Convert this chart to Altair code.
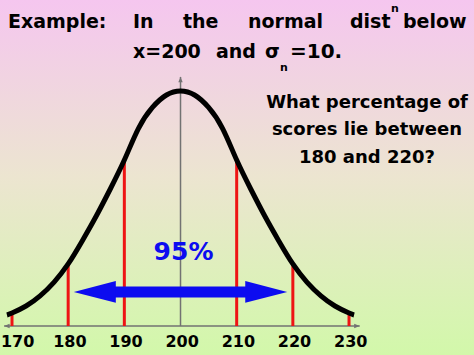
import altair as alt
import pandas as pd

# ---------------- data ----------------
curve_x = [169.1, 170, 172.5, 175, 177.5, 180, 182.5, 185, 187.5, 190, 192.5, 195, 197.5, 200,
           202.5, 205, 207.5, 210, 212.5, 215, 217.5, 220, 222.5, 225, 227.5, 230, 230.9]
curve_y = [0.047, 0.055, 0.085, 0.128, 0.187, 0.264, 0.362, 0.468, 0.583, 0.706, 0.84, 0.93, 0.983, 1.0,
           0.983, 0.93, 0.84, 0.706, 0.583, 0.468, 0.362, 0.264, 0.187, 0.128, 0.085, 0.055, 0.047]
tick_values = [170, 180, 190, 200, 210, 220, 230]
tick_labels = ["170", "180", "190", "200", "210", "220", "230"]
marker_x = [170, 180, 190, 210, 220, 230]
marker_top = [0.055, 0.264, 0.706, 0.706, 0.264, 0.055]
mean_value = 200
arrow_lo, arrow_hi = 181, 219
pct_text = "95%"

# ---------------- scales ----------------
XS = alt.Scale(domain=[167.864, 252.25], nice=False, zero=False)
YS = alt.Scale(domain=[-0.1234, 1.3872], nice=False, zero=False)

def X(field="x", t="Q"):
    return alt.X(f"{field}:{t}", scale=XS, axis=None)

def Y(field="y", t="Q"):
    return alt.Y(f"{field}:{t}", scale=YS, axis=None)

dummy = pd.DataFrame({"d": [0]})
FONT = "DejaVu Sans"

def txt(text, x, y, size, color="black", weight="bold", align="left"):
    return alt.Chart(dummy).mark_text(
        text=text, font=FONT, fontSize=size, fontWeight=weight, color=color,
        align=align, baseline="alphabetic"
    ).encode(x=alt.value(x), y=alt.value(y))

# background gradient
bg = alt.Chart(dummy).mark_rect(
    color=alt.LinearGradient(
        gradient="linear",
        stops=[alt.GradientStop(offset=0, color="#f5c6ef"),
               alt.GradientStop(offset=0.5, color="#ece5d0"),
               alt.GradientStop(offset=1, color="#d2f8aa")],
        x1=0, x2=0, y1=0, y2=1)
).encode(x=alt.value(0), x2=alt.value(474), y=alt.value(0), y2=alt.value(355))

curve_df = pd.DataFrame({"x": curve_x, "y": curve_y})
marker_df = pd.DataFrame({"x": marker_x, "y": [0] * len(marker_x), "y2": marker_top})
tick_df = pd.DataFrame({"x": tick_values, "label": tick_labels})
mean_df = pd.DataFrame({"x": [mean_value], "y": [0], "y2": [1.06]})
axis_df = pd.DataFrame({"x": [168.6], "x2": [231.9], "y": [0]})
arrow_df = pd.DataFrame({"lo": [arrow_lo], "hi": [arrow_hi], "y": [0.145]})

GRAY = "#727272"
RED = "#ee1414"
BLUE = "#0c0cf0"

axis_line = alt.Chart(axis_df).mark_rule(color=GRAY, strokeWidth=1.5).encode(
    x=X("x"), x2="x2:Q", y=Y("y"))
axis_left = alt.Chart(axis_df).mark_point(
    shape="M0,0L2,-0.8L2,0.8Z", filled=True, opacity=1, color=GRAY, size=30
).encode(x=X("x"), y=Y("y"))
axis_right = alt.Chart(axis_df).mark_point(
    shape="M0,0L-2,-0.8L-2,0.8Z", filled=True, opacity=1, color=GRAY, size=30
).encode(x=X("x2"), y=Y("y"))

mean_line = alt.Chart(mean_df).mark_rule(color=GRAY, strokeWidth=1.5).encode(
    x=X("x"), y=Y("y"), y2="y2:Q")
mean_tip = alt.Chart(mean_df).mark_point(
    shape="M0,0L-0.8,2L0.8,2Z", filled=True, opacity=1, color=GRAY, size=30
).encode(x=X("x"), y=Y("y2"))

markers = alt.Chart(marker_df).mark_rule(color=RED, strokeWidth=3).encode(
    x=X("x"), y=Y("y"), y2="y2:Q")

curve = alt.Chart(curve_df).mark_line(
    color="black", strokeWidth=5, interpolate="natural", strokeCap="butt"
).encode(x=X("x"), y=Y("y"))

shaft = alt.Chart(arrow_df).transform_calculate(
    a="datum.lo + 5", b="datum.hi - 5"
).mark_rule(color=BLUE, strokeWidth=11).encode(x=X("a"), x2="b:Q", y=Y("y"))
head_l = alt.Chart(arrow_df).mark_point(
    shape="M0,0L2,-0.52L2,0.52Z", filled=True, opacity=1, color=BLUE, size=1764
).encode(x=X("lo"), y=Y("y"))
head_r = alt.Chart(arrow_df).mark_point(
    shape="M0,0L-2,-0.52L-2,0.52Z", filled=True, opacity=1, color=BLUE, size=1764
).encode(x=X("hi"), y=Y("y"))

pct = alt.Chart(pd.DataFrame({"x": [mean_value], "y": [0.315], "t": [pct_text]})).mark_text(
    font=FONT, fontSize=25, fontWeight="bold", color=BLUE, baseline="middle", dx=3
).encode(x=X("x"), y=Y("y"), text="t:N")

ticks = alt.Chart(tick_df).transform_calculate(
    px="datum.x == 170 ? datum.x + 1.0 : datum.x + 0.3", py="-0.0894"
).mark_text(
    font=FONT, fontSize=16, fontWeight="bold", color="black", baseline="alphabetic"
).encode(x=X("px"), y=Y("py"), text="label:N")

titles = [
    txt("Example:", 8, 28, 19),
    txt("In", 133, 28, 19),
    txt("the", 183, 28, 19),
    txt("normal", 248, 28, 19),
    txt("dist", 350, 28, 19),
    txt("n", 391, 12, 11),
    txt("below", 403, 28, 19),
    txt("x=200", 133, 58, 19),
    txt("and", 216, 58, 19),
    txt("σ", 265, 58, 19),
    txt("n", 280, 71, 11),
    txt("=10.", 290, 58, 20),
    txt("What percentage of", 367, 108, 18, align="center"),
    txt("scores lie between", 367, 135, 18, align="center"),
    txt("180 and 220?", 367, 163, 18, align="center"),
]

chart = alt.layer(
    bg, axis_line, axis_left, axis_right, mean_line, mean_tip, markers, curve,
    shaft, head_l, head_r, pct, ticks, *titles
).properties(
    width=474, height=355, padding=0, autosize=alt.AutoSizeParams(type="none"),
    background="#ece5d0"
).configure_view(strokeWidth=0)

chart.save("out.html", embed_options={"renderer": "svg", "actions": False})
